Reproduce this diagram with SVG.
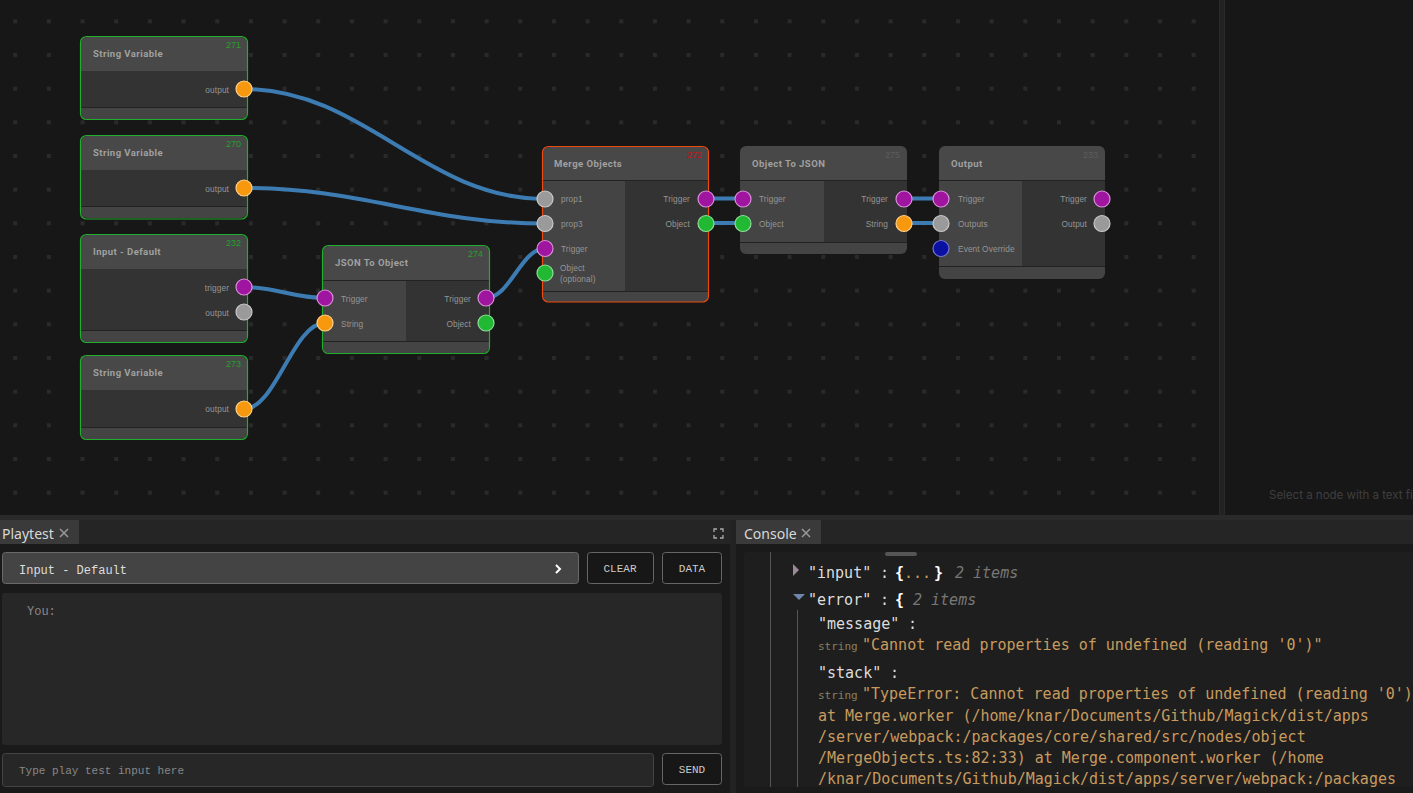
<svg xmlns="http://www.w3.org/2000/svg" width="1413" height="793" viewBox="0 0 1413 793">
<style>
.body{fill:#333;}
.left{fill:#444;}
.head{fill:#484848;}
.foot{fill:#444;}
.sep{stroke:#222;stroke-width:1;fill:none;}
.bok{fill:none;stroke:#22ad2c;stroke-width:1.2;}
.berr{fill:none;stroke:#ee4a10;stroke-width:1.2;}
.title{font:bold 9.5px Roboto,"Liberation Sans",Arial,sans-serif;letter-spacing:.45px;fill:#a0a0a0;}
.id{font:9px "Liberation Sans",Arial,sans-serif;}
.lab{font:8.3px "Liberation Sans",Arial,sans-serif;letter-spacing:.1px;fill:#959595;}
.r{text-anchor:end;}
.s{stroke-width:1.2;}
.or{fill:#f7980f;stroke:#ffd08a;}
.gy{fill:#9a9a9a;stroke:#c8c8c8;}
.pu{fill:#a015a0;stroke:#d890d8;}
.gr{fill:#21b933;stroke:#8fdc98;}
.bl{fill:#0a10a0;stroke:#7478cc;}
.conn{fill:none;stroke:#3d7cb2;stroke-width:4;}
.tab{font:14px "Noto Sans",Arial,sans-serif;fill:#d8d8d8;}
.x{stroke:#999;stroke-width:1.5;fill:none;}
.mono{font:12px "Liberation Mono",monospace;fill:#ddd;}
.btn{fill:#171717;stroke:#666;stroke-width:1;}
.btxt{font:11px "Liberation Mono",monospace;fill:#ccc;text-anchor:middle;}
.c{font:15px "DejaVu Sans Mono",monospace;}
.k{fill:#ddd;}
.v{fill:#c79b5e;}
.t{font:11px "DejaVu Sans Mono",monospace;fill:#8a8060;}
.n{font:italic 15px "DejaVu Sans Mono",monospace;fill:#777;}
.b{fill:#fff;font-weight:bold;}
</style>
<defs>
<pattern id="dots" x="13.2" y="19.3" width="33.67" height="33.67" patternUnits="userSpaceOnUse"><rect width="4" height="4" fill="#2a2a2a"/></pattern>
</defs>
<rect width="1413" height="793" fill="#1a1a1a"/>
<rect width="1219" height="515" fill="#171717"/>
<rect width="1219" height="515" fill="url(#dots)"/>
<rect x="1219" width="6" height="515" fill="#2a2a2a"/>
<rect x="1220" width="4" height="515" fill="#222"/>
<rect x="1225" width="188" height="515" fill="#171717"/>
<text x="1269" y="499" font-family="Inter,'Liberation Sans',sans-serif" font-size="11.5" fill="#3f3f3f">Select a node with a text fie</text>
<g id="connectors">
<path class="conn" d="M244 89C364 89 425 199 545 199"/>
<path class="conn" d="M244 188C364 188 425 223.500 545 223.500"/>
<path class="conn" d="M244 287C276 287 293 298 325 298"/>
<path class="conn" d="M244 409C276 409 293 323 325 323"/>
<path class="conn" d="M486 298C510 298 521 248.500 545 248.500"/>
<path class="conn" d="M706 198.500H743"/>
<path class="conn" d="M706 223H743"/>
<path class="conn" d="M904 198.500H941"/>
<path class="conn" d="M904 223H941"/>
</g>
<g id="node-271">
<path class="body" d="M81 71H247V108H81z"/><path class="head" d="M87 37H241a6 6 0 0 1 6 6V71H81V43a6 6 0 0 1 6-6z"/><path class="foot" d="M81 108H247V113a6 6 0 0 1-6 6H87a6 6 0 0 1-6-6z"/>
<path class="sep" d="M81 107.500H247"/><rect class="bok" x="80.500" y="36.500" width="167" height="83" rx="6"/>
<text class="title" x="93" y="57">String Variable</text><text class="id r" x="241" y="48" fill="#22a02c">271</text>
<text class="lab r" x="229" y="93">output</text><circle class="s or" cx="244" cy="89" r="8"/>
</g>
<g id="node-270">
<path class="body" d="M81 170H247V207H81z"/><path class="head" d="M87 136H241a6 6 0 0 1 6 6V170H81V142a6 6 0 0 1 6-6z"/><path class="foot" d="M81 207H247V212a6 6 0 0 1-6 6H87a6 6 0 0 1-6-6z"/>
<path class="sep" d="M81 206.500H247"/><rect class="bok" x="80.500" y="135.500" width="167" height="83.500" rx="6"/>
<text class="title" x="93" y="156">String Variable</text><text class="id r" x="241" y="147" fill="#22a02c">270</text>
<text class="lab r" x="229" y="192">output</text><circle class="s or" cx="244" cy="188" r="8"/>
</g>
<g id="node-232">
<path class="body" d="M81 269H247V331H81z"/><path class="head" d="M87 235H241a6 6 0 0 1 6 6V269H81V241a6 6 0 0 1 6-6z"/><path class="foot" d="M81 331H247V336a6 6 0 0 1-6 6H87a6 6 0 0 1-6-6z"/>
<path class="sep" d="M81 330.500H247"/><rect class="bok" x="80.500" y="234.500" width="167" height="108" rx="6"/>
<text class="title" x="93" y="255">Input - Default</text><text class="id r" x="241" y="246" fill="#22a02c">232</text>
<text class="lab r" x="229" y="291">trigger</text><circle class="s pu" cx="244" cy="287" r="8"/>
<text class="lab r" x="229" y="316">output</text><circle class="s gy" cx="244" cy="312" r="8"/>
</g>
<g id="node-273">
<path class="body" d="M81 390H247V428H81z"/><path class="head" d="M87 356H241a6 6 0 0 1 6 6V390H81V362a6 6 0 0 1 6-6z"/><path class="foot" d="M81 428H247V433a6 6 0 0 1-6 6H87a6 6 0 0 1-6-6z"/>
<path class="sep" d="M81 427.500H247"/><rect class="bok" x="80.500" y="355.500" width="167" height="84" rx="6"/>
<text class="title" x="93" y="376">String Variable</text><text class="id r" x="241" y="367" fill="#22a02c">273</text>
<text class="lab r" x="229" y="412">output</text><circle class="s or" cx="244" cy="409" r="8"/>
</g>
<g id="node-274">
<path class="body" d="M323 280H489V342H323z"/><path class="left" d="M323 280H406V341H323z"/><path class="head" d="M329 246H483a6 6 0 0 1 6 6V280H323V252a6 6 0 0 1 6-6z"/><path class="foot" d="M323 342H489V347a6 6 0 0 1-6 6H329a6 6 0 0 1-6-6z"/>
<path class="sep" d="M323 341.500H489M323 280.500H489"/><rect class="bok" x="322.500" y="245.500" width="167" height="108" rx="6"/>
<text class="title" x="335" y="266">JSON To Object</text><text class="id r" x="483" y="257" fill="#22a02c">274</text>
<text class="lab" x="341" y="302">Trigger</text><text class="lab" x="341" y="327">String</text>
<text class="lab r" x="471" y="302">Trigger</text><text class="lab r" x="471" y="327">Object</text>
<circle class="s pu" cx="325" cy="298" r="8"/><circle class="s or" cx="325" cy="323" r="8"/><circle class="s pu" cx="486" cy="298" r="8"/><circle class="s gr" cx="486" cy="323" r="8"/>
</g>
<g id="node-272">
<path class="body" d="M543 180H708V292H543z"/><path class="left" d="M543 180H625V291H543z"/><path class="head" d="M549 147H702a6 6 0 0 1 6 6V180H543V153a6 6 0 0 1 6-6z"/><path class="foot" d="M543 292H708V296a6 6 0 0 1-6 6H549a6 6 0 0 1-6-6z"/>
<path class="sep" d="M543 291.500H708M543 180.500H708"/><rect class="berr" x="542.500" y="146.500" width="166" height="155.500" rx="6"/>
<text class="title" x="554" y="167">Merge Objects</text><text class="id r" x="702" y="158" fill="#c81414">272</text>
<text class="lab" x="561" y="202">prop1</text><text class="lab" x="561" y="227">prop3</text><text class="lab" x="561" y="252">Trigger</text>
<text class="lab" x="560" y="271">Object</text><text class="lab" x="560" y="282">(optional)</text>
<text class="lab r" x="690" y="202">Trigger</text><text class="lab r" x="690" y="227">Object</text>
<circle class="s gy" cx="545" cy="199" r="8"/><circle class="s gy" cx="545" cy="223.500" r="8"/><circle class="s pu" cx="545" cy="248.500" r="8"/><circle class="s gr" cx="545" cy="273" r="8"/>
<circle class="s pu" cx="706" cy="199" r="8"/><circle class="s gr" cx="706" cy="223.500" r="8"/>
</g>
<g id="node-275">
<path class="body" d="M740 180H907V243H740z"/><path class="left" d="M740 180H824V242H740z"/><path class="head" d="M746 146H901a6 6 0 0 1 6 6V180H740V152a6 6 0 0 1 6-6z"/><path class="foot" d="M740 243H907V248a6 6 0 0 1-6 6H746a6 6 0 0 1-6-6z"/>
<path class="sep" d="M740 242.500H907M740 180.500H907"/>
<text class="title" x="752" y="167">Object To JSON</text><text class="id r" x="900" y="158" fill="#5c5c5c">275</text>
<text class="lab" x="759" y="202">Trigger</text><text class="lab" x="759" y="227">Object</text>
<text class="lab r" x="888" y="202">Trigger</text><text class="lab r" x="888" y="227">String</text>
<circle class="s pu" cx="743" cy="199" r="8"/><circle class="s gr" cx="743" cy="223.500" r="8"/><circle class="s pu" cx="904" cy="199" r="8"/><circle class="s or" cx="904" cy="223.500" r="8"/>
</g>
<g id="node-233">
<path class="body" d="M939 180H1105V267H939z"/><path class="left" d="M939 180H1022V266H939z"/><path class="head" d="M945 146H1099a6 6 0 0 1 6 6V180H939V152a6 6 0 0 1 6-6z"/><path class="foot" d="M939 267H1105V273a6 6 0 0 1-6 6H945a6 6 0 0 1-6-6z"/>
<path class="sep" d="M939 266.500H1105M939 180.500H1105"/>
<text class="title" x="951" y="167">Output</text><text class="id r" x="1098" y="158" fill="#5c5c5c">233</text>
<text class="lab" x="958" y="202">Trigger</text><text class="lab" x="958" y="227">Outputs</text><text class="lab" x="958" y="252">Event Override</text>
<text class="lab r" x="1087" y="202">Trigger</text><text class="lab r" x="1087" y="227">Output</text>
<circle class="s pu" cx="941" cy="199" r="8"/><circle class="s gy" cx="941" cy="223.500" r="8"/><circle class="s bl" cx="941" cy="248.500" r="8"/>
<circle class="s pu" cx="1102" cy="199" r="8"/><circle class="s gy" cx="1102" cy="223.500" r="8"/>
</g>
<rect y="515" width="1413" height="5" fill="#2a2a2a"/>
<rect y="520" width="730" height="24" fill="#252525"/>
<rect x="736" y="520" width="677" height="24" fill="#252525"/>
<rect x="730" y="520" width="6" height="273" fill="#222"/>
<rect x="0" y="520" width="79" height="24" fill="#3a3a3a"/>
<text class="tab" x="2" y="539">Playtest</text>
<path class="x" d="M60 529l8 8m0-8l-8 8"/>
<path d="M714 532v-3h3M720 529h3v3M723 535v3h-3M717 538h-3v-3" fill="none" stroke="#aaa" stroke-width="1.300"/>
<rect x="2.500" y="552.500" width="576" height="31" rx="3" fill="#444" stroke="#6a6a6a"/>
<text class="mono" x="19" y="574">Input - Default</text>
<path d="M556 565l4 4-4 4" fill="none" stroke="#fff" stroke-width="2"/>
<rect class="btn" x="587.500" y="552.500" width="66" height="31" rx="3"/><text class="btxt" x="620" y="572">CLEAR</text>
<rect class="btn" x="662.500" y="552.500" width="59" height="31" rx="3"/><text class="btxt" x="692" y="572">DATA</text>
<rect x="2" y="593" width="720" height="152" rx="3" fill="#272727"/>
<text class="mono" x="27" y="615" style="fill:#888">You:</text>
<rect x="2.500" y="753.500" width="651" height="33" rx="3" fill="#272727" stroke="#444"/>
<text class="mono" x="19" y="774" style="font-size:11px;fill:#888">Type play test input here</text>
<rect class="btn" x="662.500" y="753.500" width="59" height="31" rx="3"/><text class="btxt" x="692" y="773">SEND</text>
<rect x="736" y="520" width="85" height="24" fill="#3a3a3a"/>
<text class="tab" x="744" y="539">Console</text>
<path class="x" d="M802 529l8 8m0-8l-8 8"/>
<rect x="744" y="552" width="669" height="235" rx="3" fill="#1e1e1e"/>
<path d="M770.500 552V787M797.500 610V787" stroke="#555" fill="none"/>
<rect x="885" y="552" width="32" height="4" rx="2" fill="#555"/>
<path d="M793 564l6 6-6 6z" fill="#9a8a9a"/>
<path d="M793 594h12l-6 6z" fill="#6f86aa"/>
<text class="c k" x="808" y="578">"input"</text><text class="c k" x="880" y="578">:</text><text class="c b" x="895" y="578">{</text><text class="c v" x="904" y="578">...</text><text class="c b" x="934" y="578">}</text><text class="n" x="955" y="578">2 items</text>
<text class="c k" x="808" y="605">"error"</text><text class="c k" x="880" y="605">:</text><text class="c b" x="895" y="605">{</text><text class="n" x="913" y="605">2 items</text>
<text class="c k" x="818" y="629">"message"</text><text class="c k" x="908" y="629">:</text>
<text class="t" x="818" y="650">string</text><text class="c v" x="862" y="650">"Cannot read properties of undefined (reading '0')"</text>
<text class="c k" x="818" y="678">"stack"</text><text class="c k" x="890" y="678">:</text>
<text class="t" x="818" y="699">string</text><text class="c v" x="862" y="699">"TypeError: Cannot read properties of undefined (reading '0')</text>
<text class="c v" x="818" y="721">at Merge.worker (/home/knar/Documents/Github/Magick/dist/apps</text>
<text class="c v" x="818" y="742">/server/webpack:/packages/core/shared/src/nodes/object</text>
<text class="c v" x="818" y="763">/MergeObjects.ts:82:33) at Merge.component.worker (/home</text>
<text class="c v" x="818" y="784">/knar/Documents/Github/Magick/dist/apps/server/webpack:/packages</text>
</svg>
